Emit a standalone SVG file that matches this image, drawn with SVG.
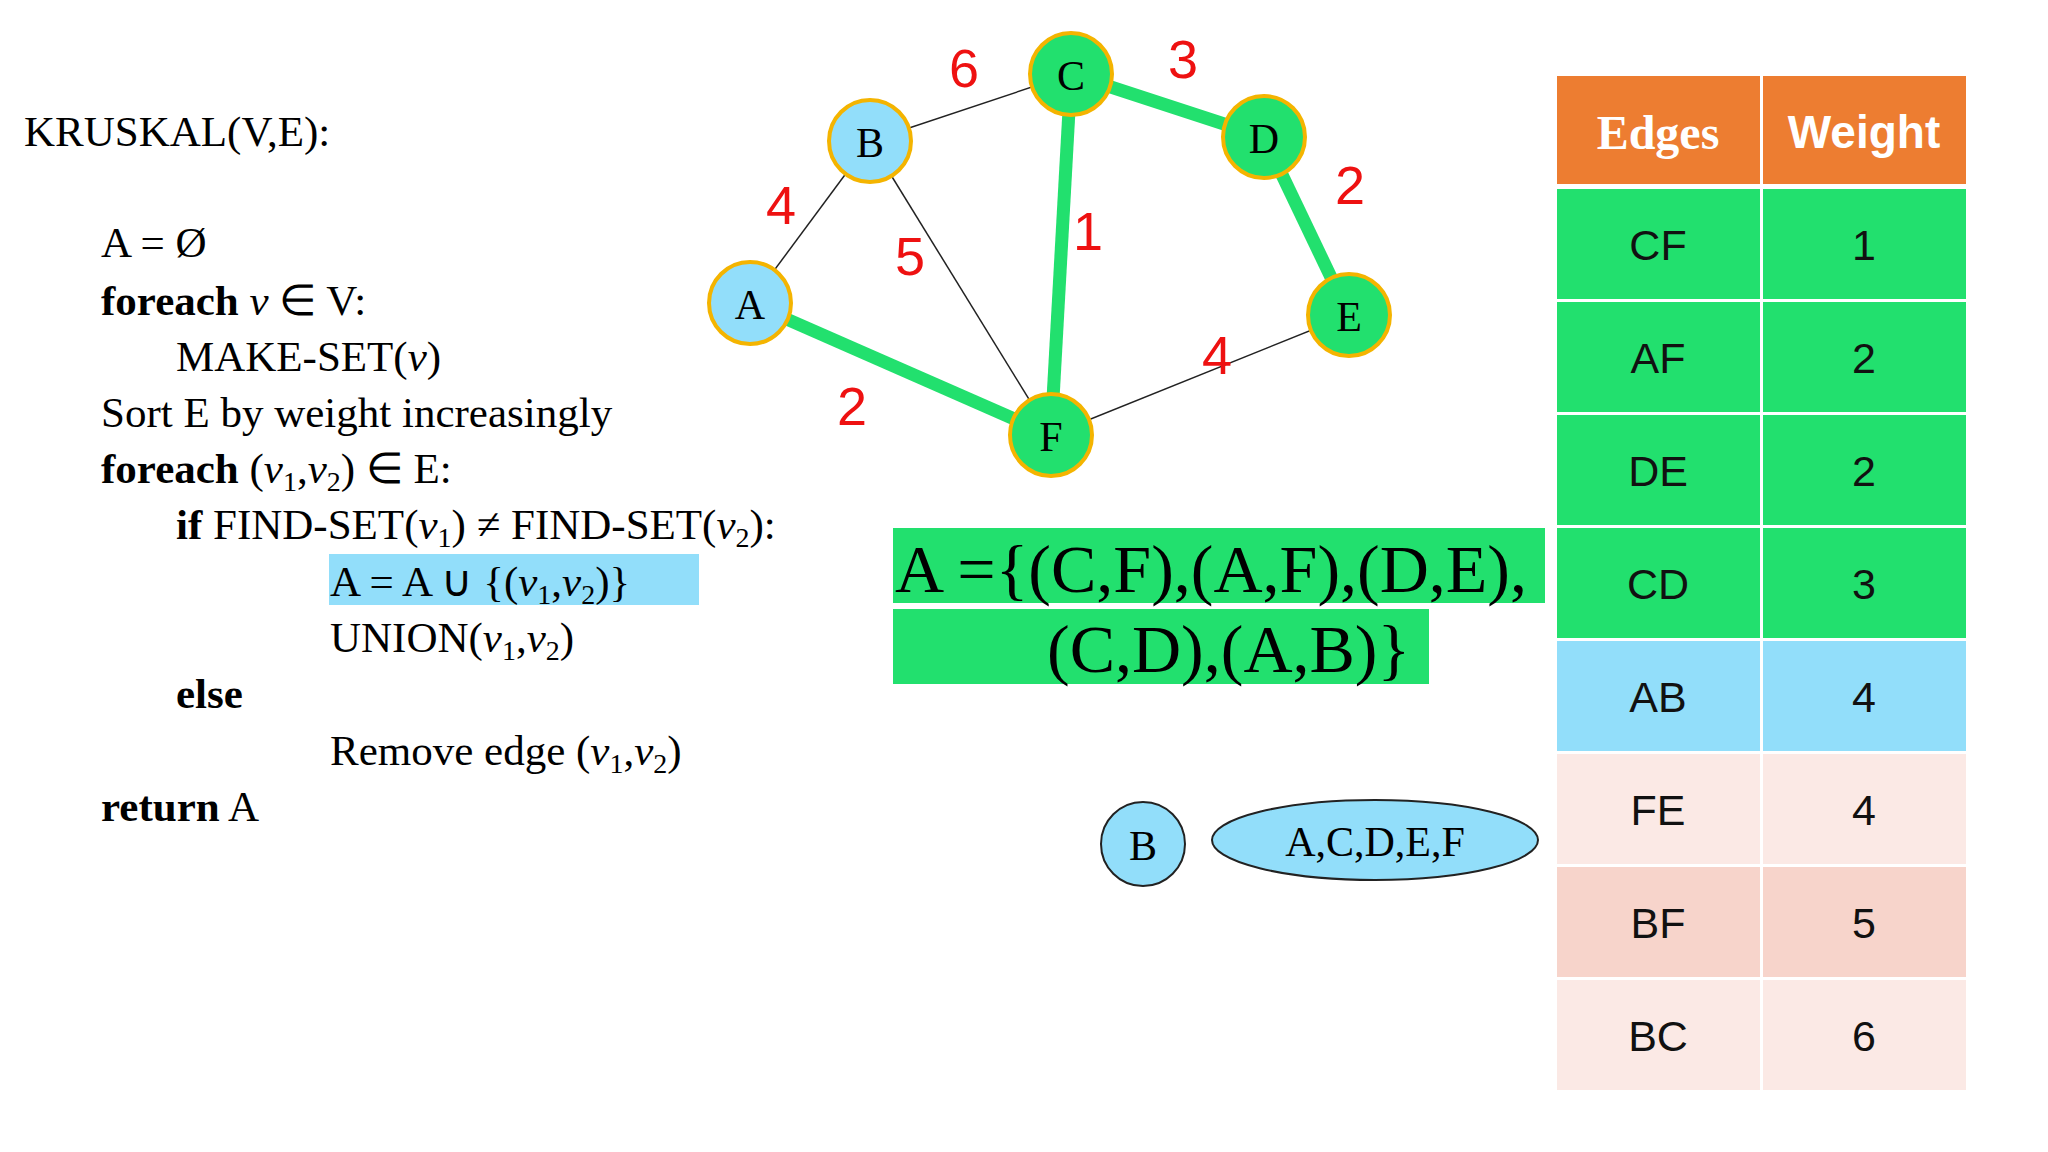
<svg xmlns="http://www.w3.org/2000/svg" width="2048" height="1152" viewBox="0 0 2048 1152">
<style>
.code{font-family:"Liberation Serif",serif;font-size:43px;fill:#000}
.b{font-weight:bold}
.i{font-style:italic}
.nb{fill:#92DEFA;stroke:#F4B400;stroke-width:4}
.ng{fill:#22E06E;stroke:#F4B400;stroke-width:4}
.nt{font-family:"Liberation Serif",serif;font-size:42px;text-anchor:middle;dominant-baseline:central}
.thin{stroke:#222;stroke-width:1.5}
.thick{stroke:#22E06E;stroke-width:13}
.w{font-family:"Liberation Sans",sans-serif;font-size:54px;fill:#EE1111;text-anchor:middle;dominant-baseline:central}
.td{font-family:"Liberation Sans",sans-serif;font-size:43px;text-anchor:middle;dominant-baseline:central;fill:#111}
</style>
<rect width="2048" height="1152" fill="#fff"/>
<g id="code">
<rect x="329" y="554" width="370" height="51" fill="#92DEFA"/>
<text class="code" x="24" y="146">KRUSKAL(V,E):</text>
<text class="code" x="101" y="257">A = Ø</text>
<text class="code" x="101" y="315"><tspan class="b">foreach</tspan> <tspan class="i">v</tspan> ∈ V:</text>
<text class="code" x="176" y="371">MAKE-SET(<tspan class="i">v</tspan>)</text>
<text class="code" x="101" y="427">Sort E by weight increasingly</text>
<text class="code" x="101" y="483"><tspan class="b">foreach</tspan> (<tspan class="i">v</tspan><tspan font-size="28" dy="8">1</tspan><tspan dy="-8">,</tspan><tspan class="i">v</tspan><tspan font-size="28" dy="8">2</tspan><tspan dy="-8">) ∈ E:</tspan></text>
<text class="code" x="176" y="539"><tspan class="b">if</tspan> FIND-SET(<tspan class="i">v</tspan><tspan font-size="28" dy="8">1</tspan><tspan dy="-8">) ≠ FIND-SET(</tspan><tspan class="i">v</tspan><tspan font-size="28" dy="8">2</tspan><tspan dy="-8">):</tspan></text>
<text class="code" x="330" y="596">A = A ∪ {(<tspan class="i">v</tspan><tspan font-size="28" dy="8">1</tspan><tspan dy="-8">,</tspan><tspan class="i">v</tspan><tspan font-size="28" dy="8">2</tspan><tspan dy="-8">)}</tspan></text>
<text class="code" x="330" y="652">UNION(<tspan class="i">v</tspan><tspan font-size="28" dy="8">1</tspan><tspan dy="-8">,</tspan><tspan class="i">v</tspan><tspan font-size="28" dy="8">2</tspan><tspan dy="-8">)</tspan></text>
<text class="code b" x="176" y="708">else</text>
<text class="code" x="330" y="765">Remove edge (<tspan class="i">v</tspan><tspan font-size="28" dy="8">1</tspan><tspan dy="-8">,</tspan><tspan class="i">v</tspan><tspan font-size="28" dy="8">2</tspan><tspan dy="-8">)</tspan></text>
<text class="code" x="101" y="821"><tspan class="b">return</tspan> A</text>
</g>
<g id="connectors">
<line class="thin" x1="870" y1="141" x2="1071" y2="74"/>
<line class="thin" x1="750" y1="303" x2="870" y2="141"/>
<line class="thin" x1="870" y1="141" x2="1051" y2="435"/>
<line class="thin" x1="1051" y1="435" x2="1349" y2="315"/>
<line class="thick" x1="1071" y1="74" x2="1051" y2="435"/>
<line class="thick" x1="750" y1="303" x2="1051" y2="435"/>
<line class="thick" x1="1071" y1="74" x2="1264" y2="137"/>
<line class="thick" x1="1264" y1="137" x2="1349" y2="315"/>
<text class="w" x="964" y="68">6</text>
<text class="w" x="1183" y="59">3</text>
<text class="w" x="781" y="205">4</text>
<text class="w" x="910" y="256">5</text>
<text class="w" x="1088" y="231">1</text>
<text class="w" x="1350" y="185">2</text>
<text class="w" x="1217" y="355">4</text>
<text class="w" x="852" y="406">2</text>
</g>
<g id="node-B"><circle class="nb" cx="870" cy="141" r="41"/><text class="nt" x="870" y="143">B</text></g>
<g id="node-C"><circle class="ng" cx="1071" cy="74" r="41"/><text class="nt" x="1071" y="76">C</text></g>
<g id="node-D"><circle class="ng" cx="1264" cy="137" r="41"/><text class="nt" x="1264" y="139">D</text></g>
<g id="node-E"><circle class="ng" cx="1349" cy="315" r="41"/><text class="nt" x="1349" y="317">E</text></g>
<g id="node-A"><circle class="nb" cx="750" cy="303" r="41"/><text class="nt" x="750" y="305">A</text></g>
<g id="node-F"><circle class="ng" cx="1051" cy="435" r="41"/><text class="nt" x="1051" y="437">F</text></g>
<g id="result">
<rect x="893" y="528" width="652" height="75" fill="#22E06E"/>
<rect x="893" y="609" width="536" height="75" fill="#22E06E"/>
<text x="895" y="592" font-family="Liberation Serif,serif" font-size="68">A ={(C,F),(A,F),(D,E),</text>
<text x="1047" y="672" font-family="Liberation Serif,serif" font-size="68">(C,D),(A,B)}</text>
</g>
<g id="set-B"><circle cx="1143" cy="844" r="42" fill="#92DEFA" stroke="#222" stroke-width="2"/><text class="nt" x="1143" y="846">B</text></g>
<g id="set-rest"><ellipse cx="1375" cy="840" rx="163" ry="40" fill="#92DEFA" stroke="#222" stroke-width="2"/><text class="nt" x="1375" y="842">A,C,D,E,F</text></g>
<g id="table">
<rect x="1557" y="76" width="203" height="108" fill="#ED7D31"/>
<rect x="1763" y="76" width="203" height="108" fill="#ED7D31"/>
<text x="1658" y="132" font-family="Liberation Serif,serif" font-weight="bold" font-size="48" fill="#fff" text-anchor="middle" dominant-baseline="central">Edges</text>
<text x="1864" y="132" font-family="Liberation Sans,sans-serif" font-weight="bold" font-size="46" fill="#fff" text-anchor="middle" dominant-baseline="central">Weight</text>
<g fill="#22E06E">
<rect x="1557" y="189" width="203" height="110"/><rect x="1763" y="189" width="203" height="110"/>
<rect x="1557" y="302" width="203" height="110"/><rect x="1763" y="302" width="203" height="110"/>
<rect x="1557" y="415" width="203" height="110"/><rect x="1763" y="415" width="203" height="110"/>
<rect x="1557" y="528" width="203" height="110"/><rect x="1763" y="528" width="203" height="110"/>
</g>
<rect x="1557" y="641" width="203" height="110" fill="#92DEFA"/><rect x="1763" y="641" width="203" height="110" fill="#92DEFA"/>
<rect x="1557" y="754" width="203" height="110" fill="#FBE9E5"/><rect x="1763" y="754" width="203" height="110" fill="#FBE9E5"/>
<rect x="1557" y="867" width="203" height="110" fill="#F7D4CB"/><rect x="1763" y="867" width="203" height="110" fill="#F7D4CB"/>
<rect x="1557" y="980" width="203" height="110" fill="#FBE9E5"/><rect x="1763" y="980" width="203" height="110" fill="#FBE9E5"/>
<text class="td" x="1658" y="245">CF</text><text class="td" x="1864" y="245">1</text>
<text class="td" x="1658" y="358">AF</text><text class="td" x="1864" y="358">2</text>
<text class="td" x="1658" y="471">DE</text><text class="td" x="1864" y="471">2</text>
<text class="td" x="1658" y="584">CD</text><text class="td" x="1864" y="584">3</text>
<text class="td" x="1658" y="697">AB</text><text class="td" x="1864" y="697">4</text>
<text class="td" x="1658" y="810">FE</text><text class="td" x="1864" y="810">4</text>
<text class="td" x="1658" y="923">BF</text><text class="td" x="1864" y="923">5</text>
<text class="td" x="1658" y="1036">BC</text><text class="td" x="1864" y="1036">6</text>
</g>
</svg>
